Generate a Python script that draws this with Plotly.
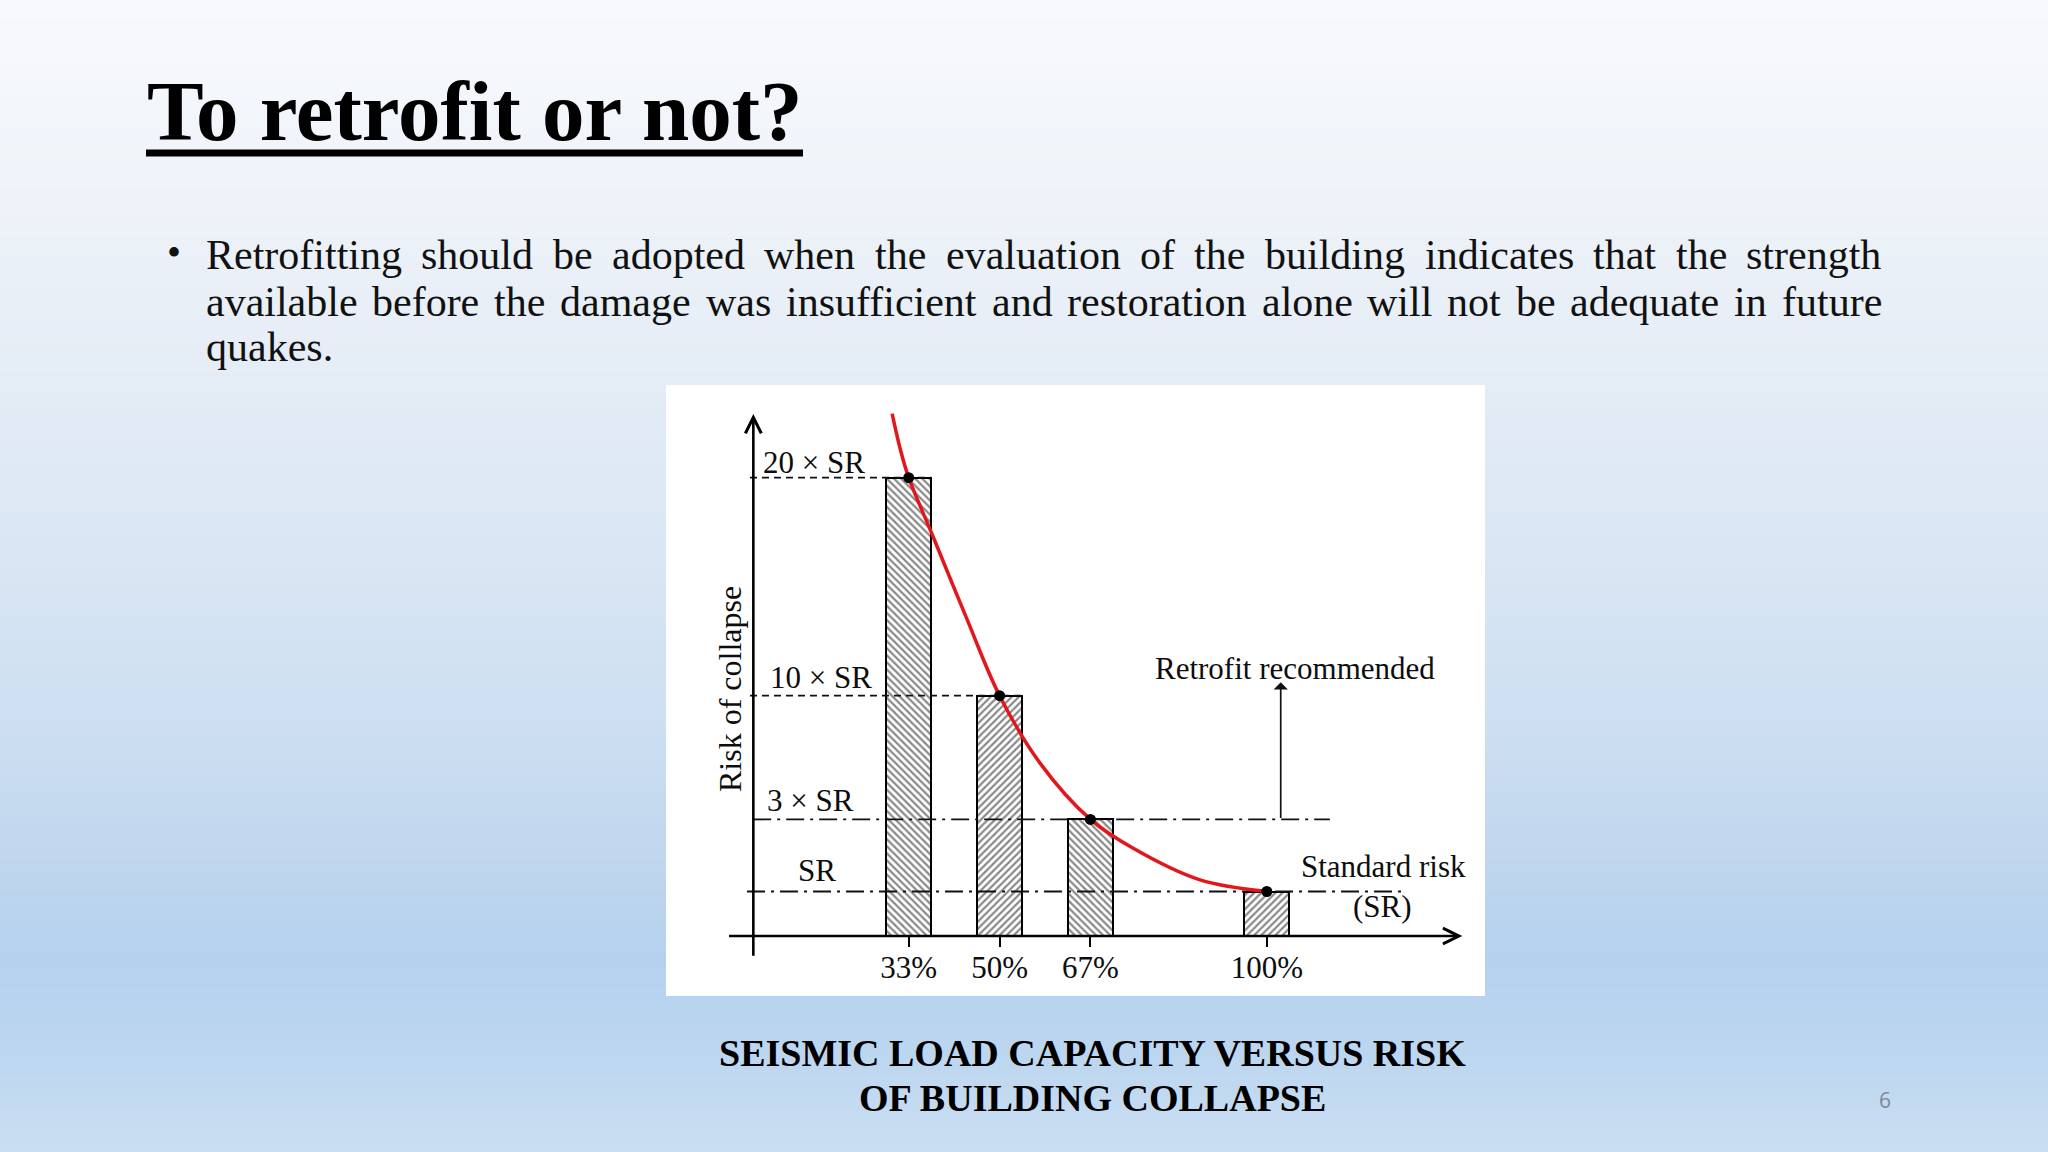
import base64
import struct
import zlib

import plotly.graph_objects as go

W, H = 2048, 1152

# ---------------- data ----------------
capacity = [33, 50, 67, 100]
capacity_labels = ["33%", "50%", "67%", "100%"]
risk_level = [10.3, 5.4, 2.62, 1.0]          # drawn bar heights (SR = 1)
risk_labels = ["20 × SR", "10 × SR", "3 × SR", "SR"]
hatch_shapes = ["\\", "/", "\\", "/"]
curve_x = [29.9, 31.4, 33.0, 37.3, 43.9, 50.0, 57.6, 67.0, 75.0, 87.5, 100.0]
curve_y = [11.74, 10.95, 10.3, 9.05, 7.12, 5.4, 3.88, 2.62, 1.97, 1.26, 1.0]

title_text = "To retrofit or not?"
bullet_lines = [
    "Retrofitting should be adopted when the evaluation of the building indicates that the strength",
    "available before the damage was insufficient and restoration alone will not be adequate in future",
    "quakes.",
]
caption_lines = ["SEISMIC LOAD CAPACITY VERSUS RISK", "OF BUILDING COLLAPSE"]
y_title = "Risk of collapse"
retrofit_note = "Retrofit recommended"
standard_note = ["Standard risk", "(SR)"]
page_number = "6"

# ---------------- layout constants ----------------
SERIF = "Liberation Serif, Times New Roman, serif"
XD = [666 / W, 1485 / W]
YD = [1 - 996 / H, 1 - 385 / H]
XR = [-12.41, 140.82]
YR = [-1.348, 12.382]
x_axis_pos = YD[0] + (0 - YR[0]) / (YR[1] - YR[0]) * (YD[1] - YD[0])

line_start = [3.3, 3.3, 3.9, 2.75]
line_end = [37.2, 54.2, 111.8, 125.5]
line_dash = ["7px,5px", "7px,5px", "18px,6px,3px,6px", "18px,6px,3px,6px"]
label_x = [5.6, 6.8, 6.3, 15.8]
label_anchor = ["left", "left", "left", "center"]
label_shift = [15, 18, 19, 21]


def px(x):
    return x / W


def py(y):
    return 1 - y / H


# ---------------- background gradient (PNG) ----------------
stops = [(0, (248, 249, 253)), (120, (242, 246, 251)), (300, (233, 239, 247)),
         (500, (221, 232, 244)), (700, (207, 224, 242)), (850, (193, 215, 238)),
         (960, (181, 209, 238)), (1050, (188, 214, 240)), (1152, (202, 222, 241))]


def grad_png(h):
    rows = []
    for yy in range(h):
        for k in range(len(stops) - 1):
            y0, c0 = stops[k]
            y1, c1 = stops[k + 1]
            if y0 <= yy <= y1:
                t = (yy - y0) / (y1 - y0)
                c = [round(c0[i] + (c1[i] - c0[i]) * t) for i in range(3)]
                break
        rows.append(b"\x00" + bytes(c))
    raw = b"".join(rows)

    def chunk(tag, data):
        return (struct.pack(">I", len(data)) + tag + data
                + struct.pack(">I", zlib.crc32(tag + data) & 0xFFFFFFFF))

    ihdr = struct.pack(">IIBBBBB", 1, h, 8, 2, 0, 0, 0)
    return (b"\x89PNG\r\n\x1a\n" + chunk(b"IHDR", ihdr)
            + chunk(b"IDAT", zlib.compress(raw)) + chunk(b"IEND", b""))


bg_uri = "data:image/png;base64," + base64.b64encode(grad_png(H)).decode()

# ---------------- figure ----------------
fig = go.Figure()

fig.add_trace(go.Bar(
    x=capacity, y=risk_level, width=8.47,
    marker=dict(color="white", line=dict(color="black", width=2),
                pattern=dict(shape=hatch_shapes, fgcolor="#141414",
                             size=5, solidity=0.45, fillmode="overlay")),
    hoverinfo="skip", showlegend=False))

for i in range(len(risk_level)):
    fig.add_trace(go.Scatter(
        x=[line_start[i], line_end[i]], y=[risk_level[i], risk_level[i]],
        mode="lines", line=dict(color="#111111", width=1.8, dash=line_dash[i]),
        hoverinfo="skip", showlegend=False))

fig.add_trace(go.Scatter(
    x=curve_x, y=curve_y, mode="lines",
    line=dict(color="#e3161c", width=3.5, shape="spline", smoothing=1.0),
    hoverinfo="skip", showlegend=False))

fig.add_trace(go.Scatter(
    x=capacity, y=risk_level, mode="markers",
    marker=dict(color="black", size=11),
    hoverinfo="skip", showlegend=False))

annotations = []

# axis arrows
annotations.append(dict(x=3.93, y=11.73, ax=3.93, ay=-0.48, xref="x", yref="y",
                        axref="x", ayref="y", text="", showarrow=True,
                        arrowhead=5, arrowwidth=2.6, arrowsize=1.2, arrowcolor="black"))
annotations.append(dict(x=136.57, y=0, ax=-0.9, ay=0, xref="x", yref="y",
                        axref="x", ayref="y", text="", showarrow=True,
                        arrowhead=5, arrowwidth=2.6, arrowsize=1.2, arrowcolor="black"))
# retrofit arrow
annotations.append(dict(x=102.6, y=5.70, ax=102.6, ay=risk_level[2], xref="x", yref="y",
                        axref="x", ayref="y", text="", showarrow=True,
                        arrowhead=1, arrowwidth=1.7, arrowsize=1.4, arrowcolor="#111111"))

chart_font = dict(family=SERIF, size=31, color="#0d0d0d")
for i, lab in enumerate(risk_labels):
    annotations.append(dict(x=label_x[i], y=risk_level[i], xref="x", yref="y",
                            text=lab, showarrow=False, xanchor=label_anchor[i],
                            yanchor="middle", yshift=label_shift[i], font=chart_font,
                            borderpad=0))
annotations.append(dict(x=105.2, y=6.01, xref="x", yref="y", text=retrofit_note,
                        showarrow=False, xanchor="center", yanchor="middle",
                        font=chart_font, borderpad=0))
annotations.append(dict(x=121.9, y=1.57, xref="x", yref="y", text=standard_note[0],
                        showarrow=False, xanchor="center", yanchor="middle",
                        font=chart_font, borderpad=0))
annotations.append(dict(x=121.6, y=0.66, xref="x", yref="y", text=standard_note[1],
                        showarrow=False, xanchor="center", yanchor="middle",
                        font=chart_font, borderpad=0))
annotations.append(dict(x=-0.55, y=5.56, xref="x", yref="y", text=y_title,
                        showarrow=False, textangle=-90, xanchor="center",
                        yanchor="middle",
                        font=dict(family=SERIF, size=32, color="#0d0d0d"), borderpad=0))

# ---------------- slide text ----------------
TIMES = dict(a=444, b=500, c=444, d=500, e=444, f=333, g=500, h=500, i=278, j=278,
             k=500, l=278, m=778, n=500, o=500, p=500, q=500, r=333, s=389, t=278,
             u=500, v=500, w=722, x=500, y=500, z=444, R=667)
TIMES["."] = 250


def text_width(s, fs):
    return sum(TIMES.get(ch, 500) for ch in s) / 1000 * fs


BODY_FS = 42
body_font = dict(family=SERIF, size=BODY_FS, color="#111111")
line_y = [254.7, 301.5, 347.4]
x_left, x_right = 205.0, 1880.8
for li, line in enumerate(bullet_lines):
    words = line.split(" ")
    if li < len(bullet_lines) - 1:
        widths = [text_width(w, BODY_FS) for w in words]
        gap = (x_right - x_left - sum(widths)) / (len(words) - 1)
        xx = x_left
        for w, wd in zip(words, widths):
            annotations.append(dict(x=px(xx), y=py(line_y[li]), xref="paper", yref="paper",
                                    text=w, showarrow=False, xanchor="left",
                                    yanchor="middle", font=body_font, borderpad=0))
            xx += wd + gap
    else:
        annotations.append(dict(x=px(x_left), y=py(line_y[li]), xref="paper", yref="paper",
                                text=line, showarrow=False, xanchor="left",
                                yanchor="middle", font=body_font, borderpad=0))

annotations.append(dict(x=px(173.7), y=py(252), xref="paper", yref="paper", text="•",
                        showarrow=False, xanchor="center", yanchor="middle",
                        font=dict(family=SERIF, size=40, color="#111111"), borderpad=0))

annotations.append(dict(x=px(146), y=py(111.3), xref="paper", yref="paper",
                        text="<b>" + title_text + "</b>", showarrow=False,
                        xanchor="left", yanchor="middle",
                        font=dict(family=SERIF, size=85, color="black"), borderpad=0))

cap_y = [1053, 1098]
for i, c in enumerate(caption_lines):
    annotations.append(dict(x=px(1092), y=py(cap_y[i]), xref="paper", yref="paper",
                            text="<b>" + c + "</b>", showarrow=False, xanchor="center",
                            yanchor="middle",
                            font=dict(family=SERIF, size=38, color="black"), borderpad=0))

annotations.append(dict(x=px(1885), y=py(1099.5), xref="paper", yref="paper",
                        text=page_number, showarrow=False, xanchor="center",
                        yanchor="middle",
                        font=dict(family="Open Sans, sans-serif", size=21, color="#7d8896"),
                        borderpad=0))

shapes = [
    dict(type="rect", xref="paper", yref="paper", x0=px(666), x1=px(1485),
         y0=py(996), y1=py(385), fillcolor="white", line=dict(width=0), layer="below"),
    dict(type="rect", xref="paper", yref="paper", x0=px(146), x1=px(803),
         y0=py(156.5), y1=py(149.5), fillcolor="black", line=dict(width=0), layer="above"),
]

fig.update_layout(
    width=W, height=H, margin=dict(l=0, r=0, t=0, b=0),
    paper_bgcolor="#dbe7f4", plot_bgcolor="rgba(0,0,0,0)",
    showlegend=False, bargap=0,
    images=[dict(source=bg_uri, xref="paper", yref="paper", x=0, y=1,
                 sizex=1, sizey=1, sizing="stretch", xanchor="left",
                 yanchor="top", layer="below")],
    xaxis=dict(domain=XD, range=XR, anchor="free", position=x_axis_pos,
               showgrid=False, zeroline=False, showline=False,
               tickmode="array", tickvals=capacity, ticktext=capacity_labels,
               ticks="outside", ticklen=10, tickwidth=2, tickcolor="black",
               ticklabelstandoff=-6,
               tickfont=dict(family=SERIF, size=31, color="#0d0d0d"),
               fixedrange=True),
    yaxis=dict(domain=YD, range=YR, visible=False, fixedrange=True),
    annotations=annotations, shapes=shapes,
)

fig.write_html("out.html", config={"displayModeBar": False},
               post_script="document.body.style.margin='0';document.body.style.overflow='hidden';")
